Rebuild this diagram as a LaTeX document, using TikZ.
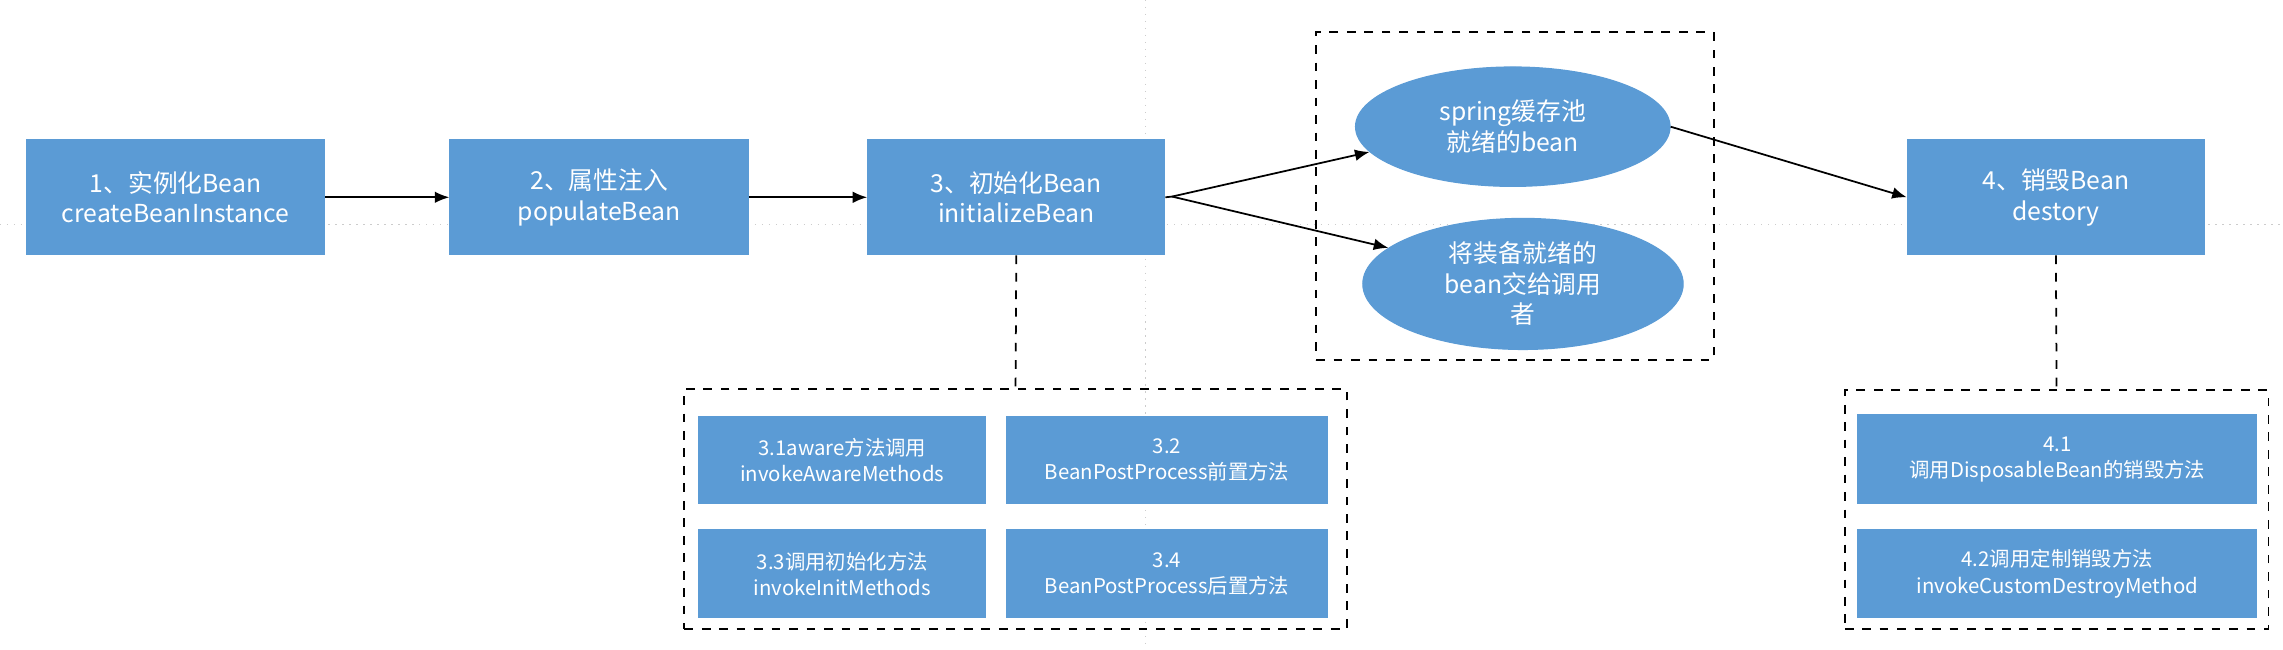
\documentclass[tikz,border=0pt]{standalone}
\usepackage{fontspec}
\setmainfont{Noto Sans CJK SC}
\usetikzlibrary{shapes.geometric,arrows.meta}
\begin{document}
\begin{tikzpicture}[x=0.5pt,y=-0.5pt,
  box/.style={fill=bb,draw=bb,text=white,align=center,inner sep=0pt,font=\fontsize{8.5}{10.5}\selectfont},
  sbox/.style={fill=bb,draw=bb,text=white,align=center,inner sep=0pt,font=\fontsize{7}{9}\selectfont},
  ell/.style={ellipse,fill=bb,draw=bb,text=white,align=center,inner sep=0pt,font=\fontsize{8.5}{10.5}\selectfont},
  dbox/.style={draw,dashed,line width=0.6pt},
  arr/.style={-{Latex[length=5pt,width=4pt]},line width=0.6pt}]
\definecolor{bb}{HTML}{5B9BD5}
\useasboundingbox (0,0) rectangle (1568,446);
\draw[gray!40,dotted] (787,0) -- (787,446);
\draw[gray!40,dotted] (0,154) -- (1568,154);
\node[box,minimum width=102.5pt,minimum height=39.5pt] (b1) at (120.5,135.5) {1、实例化Bean\\createBeanInstance};
\node[box,minimum width=102.5pt,minimum height=39.5pt] (b2) at (411.5,135.5) {2、属性注入\\populateBean};
\node[box,minimum width=102pt,minimum height=39.5pt] (b3) at (698,135.5) {3、初始化Bean\\initializeBean};
\node[box,minimum width=102pt,minimum height=39.5pt] (b4) at (1412,135.5) {4、销毁Bean\\destory};
\node[dbox,minimum width=136.5pt,minimum height=112.5pt] (d1) at (1040.5,134.5) {};
\node[ell,minimum width=108pt,minimum height=41pt] (e1) at (1039,87) {spring缓存池\\就绪的bean};
\node[ell,minimum width=110pt,minimum height=45pt] (e2) at (1046,195) {将装备就绪的\\bean交给调用\\者};
\draw[arr] (b1) -- (b2);
\draw[arr] (b2) -- (b3);
\coordinate (s) at (805,135);
\draw[line width=0.6pt] (b3.east) -- (s);
\draw[arr] (s) -- (e1.190);
\draw[arr] (s) -- (e2.165);
\draw[arr] (e1.east) -- (b4.west);
\node[dbox,minimum width=227.5pt,minimum height=82.5pt] (d2) at (697.5,349.5) {};
\node[dbox,minimum width=145.5pt,minimum height=82pt] (d3) at (1412.5,350) {};
\draw[dbox] (b3.south) -- (d2.north);
\draw[dbox] (b4.south) -- (d3.north);
\node[sbox,minimum width=98.5pt,minimum height=30pt] (i1) at (578.5,316) {3.1aware方法调用\\invokeAwareMethods};
\node[sbox,minimum width=110.5pt,minimum height=30pt] (i2) at (801.5,316) {3.2\\BeanPostProcess前置方法};
\node[sbox,minimum width=98.5pt,minimum height=30pt] (i3) at (578.5,394) {3.3调用初始化方法\\invokeInitMethods};
\node[sbox,minimum width=110.5pt,minimum height=30pt] (i4) at (801.5,394) {3.4\\BeanPostProcess后置方法};
\node[sbox,minimum width=137pt,minimum height=30.5pt] (j1) at (1413,315.5) {4.1\\调用DisposableBean的销毁方法};
\node[sbox,minimum width=137pt,minimum height=30pt] (j2) at (1413,394) {4.2调用定制销毁方法\\invokeCustomDestroyMethod};
\end{tikzpicture}
\end{document}
